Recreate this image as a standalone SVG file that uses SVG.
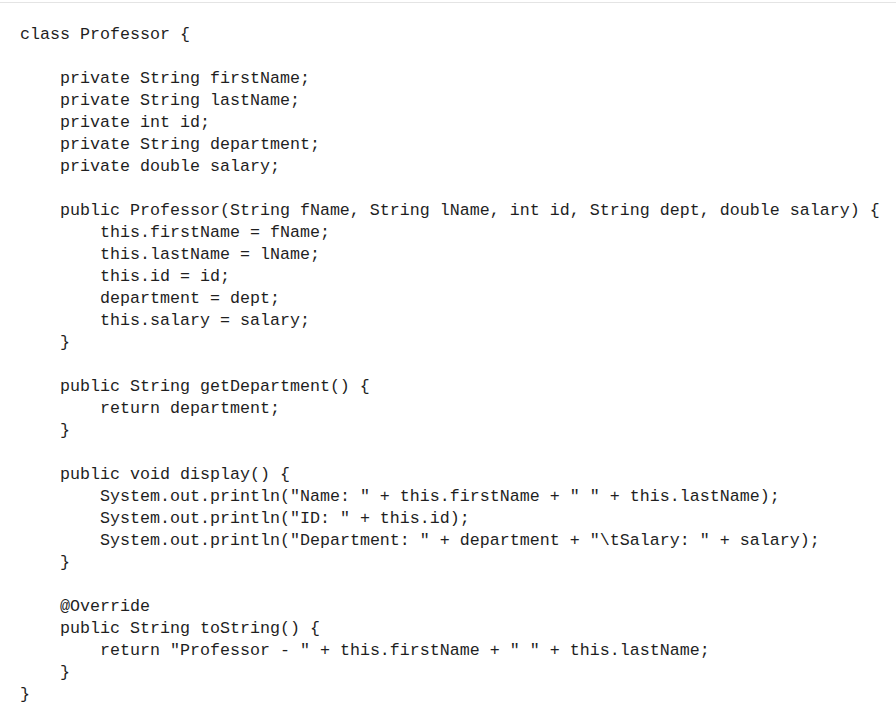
<svg xmlns="http://www.w3.org/2000/svg" width="896" height="712" viewBox="0 0 896 712">
<style>text{font-family:"Liberation Mono","DejaVu Sans Mono",monospace;font-size:16.67px;fill:#1f1f1f;white-space:pre}</style>
<rect width="896" height="712" fill="#fff"/>
<line x1="0" y1="2.5" x2="896" y2="2.5" stroke="#e4e4e4"/>
<g id="code">
<text x="20" y="39">class Professor {</text>
<text x="60" y="83">private String firstName;</text>
<text x="60" y="105">private String lastName;</text>
<text x="60" y="127">private int id;</text>
<text x="60" y="149">private String department;</text>
<text x="60" y="171">private double salary;</text>
<text x="60" y="215">public Professor(String fName, String lName, int id, String dept, double salary) {</text>
<text x="100" y="237">this.firstName = fName;</text>
<text x="100" y="259">this.lastName = lName;</text>
<text x="100" y="281">this.id = id;</text>
<text x="100" y="303">department = dept;</text>
<text x="100" y="325">this.salary = salary;</text>
<text x="60" y="347">}</text>
<text x="60" y="391">public String getDepartment() {</text>
<text x="100" y="413">return department;</text>
<text x="60" y="435">}</text>
<text x="60" y="479">public void display() {</text>
<text x="100" y="501">System.out.println("Name: " + this.firstName + " " + this.lastName);</text>
<text x="100" y="523">System.out.println("ID: " + this.id);</text>
<text x="100" y="545">System.out.println("Department: " + department + "\tSalary: " + salary);</text>
<text x="60" y="567">}</text>
<text x="60" y="611">@Override</text>
<text x="60" y="633">public String toString() {</text>
<text x="100" y="655">return "Professor - " + this.firstName + " " + this.lastName;</text>
<text x="60" y="677">}</text>
<text x="20" y="699">}</text>
</g>
</svg>
